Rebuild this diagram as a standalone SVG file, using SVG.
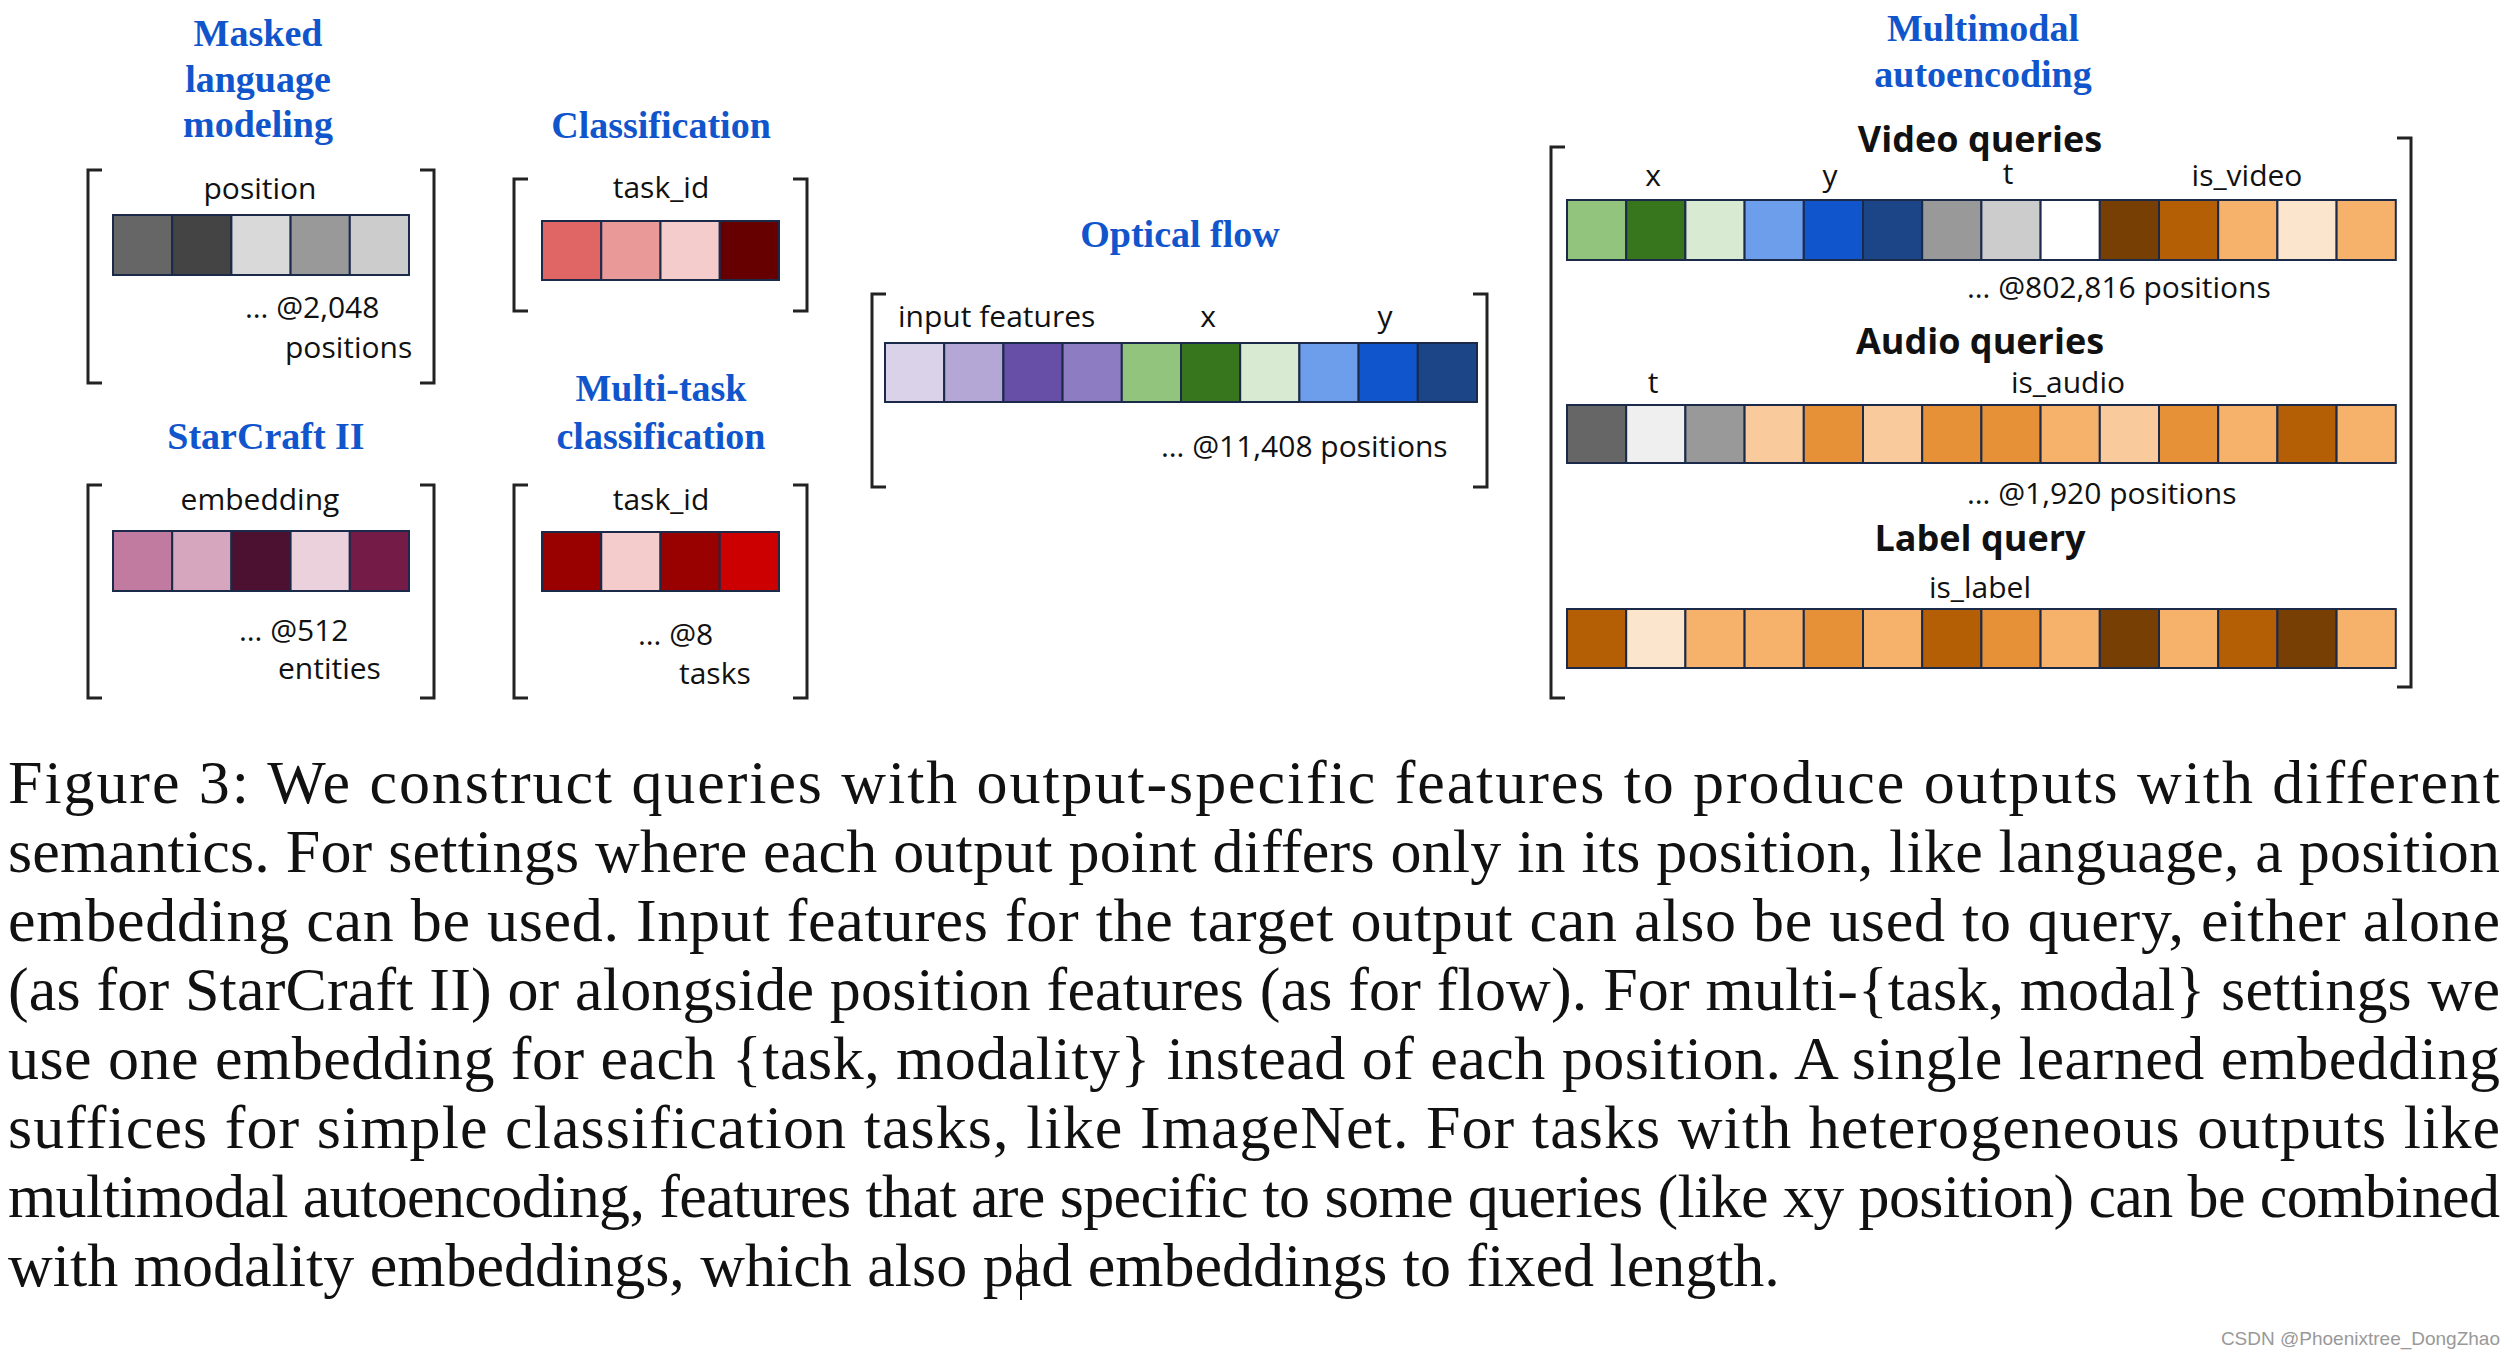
<svg xmlns="http://www.w3.org/2000/svg" width="2507" height="1354" viewBox="0 0 2507 1354">
<style>
.c{stroke:#1c2a4a;stroke-width:2}
.br{fill:none;stroke:#222;stroke-width:3}
.ti{font-family:"Liberation Serif",serif;font-weight:bold;font-size:38px;fill:#1155cc;text-anchor:middle}
.lb{font-family:"Open Sans","Liberation Sans",sans-serif;font-size:30px;fill:#111}
.hd{font-family:"Open Sans","Liberation Sans",sans-serif;font-weight:bold;font-size:36px;fill:#111;text-anchor:middle}
.m{text-anchor:middle}
.cap{font-family:"Liberation Serif",serif;font-size:62px;fill:#111}
</style>
<rect width="2507" height="1354" fill="#fff"/>
<g id="mlm">
<text class="ti" x="258" y="46">Masked</text>
<text class="ti" x="258" y="92">language</text>
<text class="ti" x="258" y="137">modeling</text>
<path class="br" d="M102,170H88V383H102M420,170H434V383H420"/>
<text class="lb m" x="260" y="199">position</text>
<g class="c" transform="translate(0,215)">
<rect x="113" width="59.2" height="60" fill="#666666"/><rect x="172.2" width="59.2" height="60" fill="#444444"/><rect x="231.4" width="59.2" height="60" fill="#d9d9d9"/><rect x="290.6" width="59.2" height="60" fill="#999999"/><rect x="349.8" width="59.2" height="60" fill="#cccccc"/>
</g>
<text class="lb" x="245" y="318">… @2,048</text>
<text class="lb" x="285" y="358">positions</text>
</g>
<g id="classification">
<text class="ti" x="661" y="138">Classification</text>
<path class="br" d="M528,179H514V311H528M793,179H807V311H793"/>
<text class="lb m" x="661" y="198">task_id</text>
<g class="c" transform="translate(0,221)">
<rect x="542" width="59.25" height="59" fill="#e06666"/><rect x="601.25" width="59.25" height="59" fill="#ea9999"/><rect x="660.5" width="59.25" height="59" fill="#f4cccc"/><rect x="719.75" width="59.25" height="59" fill="#660000"/>
</g>
</g>
<g id="starcraft">
<text class="ti" x="266" y="449">StarCraft II</text>
<path class="br" d="M102,485H88V698H102M420,485H434V698H420"/>
<text class="lb m" x="260" y="510">embedding</text>
<g class="c" transform="translate(0,531)">
<rect x="113" width="59.2" height="60" fill="#c27ba0"/><rect x="172.2" width="59.2" height="60" fill="#d5a6bd"/><rect x="231.4" width="59.2" height="60" fill="#4c1130"/><rect x="290.6" width="59.2" height="60" fill="#ead1dc"/><rect x="349.8" width="59.2" height="60" fill="#741b47"/>
</g>
<text class="lb" x="239" y="641">… @512</text>
<text class="lb" x="278" y="679">entities</text>
</g>
<g id="multitask">
<text class="ti" x="661" y="401">Multi-task</text>
<text class="ti" x="661" y="449">classification</text>
<path class="br" d="M528,485H514V698H528M793,485H807V698H793"/>
<text class="lb m" x="661" y="510">task_id</text>
<g class="c" transform="translate(0,532)">
<rect x="542" width="59.25" height="59" fill="#990000"/><rect x="601.25" width="59.25" height="59" fill="#f4cccc"/><rect x="660.5" width="59.25" height="59" fill="#990000"/><rect x="719.75" width="59.25" height="59" fill="#cc0000"/>
</g>
<text class="lb" x="638" y="645">… @8</text>
<text class="lb" x="679" y="684">tasks</text>
</g>
<g id="opticalflow">
<text class="ti" x="1180" y="247">Optical flow</text>
<path class="br" d="M886,294H872V487H886M1473,294H1487V487H1473"/>
<text class="lb" x="898" y="327">input features</text>
<text class="lb m" x="1208" y="327">x</text>
<text class="lb m" x="1385" y="327">y</text>
<g class="c" transform="translate(0,343)">
<rect x="885" width="59.2" height="59" fill="#d9d2e9"/><rect x="944.2" width="59.2" height="59" fill="#b4a7d6"/><rect x="1003.4" width="59.2" height="59" fill="#674ea7"/><rect x="1062.6" width="59.2" height="59" fill="#8e7cc3"/><rect x="1121.8" width="59.2" height="59" fill="#93c47d"/><rect x="1181" width="59.2" height="59" fill="#38761d"/><rect x="1240.2" width="59.2" height="59" fill="#d9ead3"/><rect x="1299.4" width="59.2" height="59" fill="#6d9eeb"/><rect x="1358.6" width="59.2" height="59" fill="#1155cc"/><rect x="1417.8" width="59.2" height="59" fill="#1c4587"/>
</g>
<text class="lb" x="1161" y="457">… @11,408 positions</text>
</g>
<g id="multimodal">
<text class="ti" x="1983" y="41">Multimodal</text>
<text class="ti" x="1983" y="87">autoencoding</text>
<path class="br" d="M1565,147H1551V698H1565M2397,138H2411V687H2397"/>
<text class="hd" x="1980" y="152">Video queries</text>
<text class="lb m" x="1653" y="186">x</text>
<text class="lb m" x="1830" y="186">y</text>
<text class="lb m" x="2008" y="184">t</text>
<text class="lb m" x="2247" y="186">is_video</text>
<g class="c" transform="translate(0,200)">
<rect x="1567" width="59.2" height="60" fill="#93c47d"/><rect x="1626.2" width="59.2" height="60" fill="#38761d"/><rect x="1685.4" width="59.2" height="60" fill="#d9ead3"/><rect x="1744.6" width="59.2" height="60" fill="#6d9eeb"/><rect x="1803.8" width="59.2" height="60" fill="#1155cc"/><rect x="1863" width="59.2" height="60" fill="#1c4587"/><rect x="1922.2" width="59.2" height="60" fill="#999999"/><rect x="1981.4" width="59.2" height="60" fill="#cccccc"/><rect x="2040.6" width="59.2" height="60" fill="#ffffff"/><rect x="2099.8" width="59.2" height="60" fill="#783f04"/><rect x="2159" width="59.2" height="60" fill="#b45f06"/><rect x="2218.2" width="59.2" height="60" fill="#f6b26b"/><rect x="2277.4" width="59.2" height="60" fill="#fce5cd"/><rect x="2336.6" width="59.2" height="60" fill="#f6b26b"/>
</g>
<text class="lb" x="1967" y="298">… @802,816 positions</text>
<text class="hd" x="1980" y="354">Audio queries</text>
<text class="lb m" x="1653" y="393">t</text>
<text class="lb m" x="2068" y="393">is_audio</text>
<g class="c" transform="translate(0,405)">
<rect x="1567" width="59.2" height="58" fill="#666666"/><rect x="1626.2" width="59.2" height="58" fill="#efefef"/><rect x="1685.4" width="59.2" height="58" fill="#999999"/><rect x="1744.6" width="59.2" height="58" fill="#f9cb9c"/><rect x="1803.8" width="59.2" height="58" fill="#e69138"/><rect x="1863" width="59.2" height="58" fill="#f9cb9c"/><rect x="1922.2" width="59.2" height="58" fill="#e69138"/><rect x="1981.4" width="59.2" height="58" fill="#e69138"/><rect x="2040.6" width="59.2" height="58" fill="#f6b26b"/><rect x="2099.8" width="59.2" height="58" fill="#f9cb9c"/><rect x="2159" width="59.2" height="58" fill="#e69138"/><rect x="2218.2" width="59.2" height="58" fill="#f6b26b"/><rect x="2277.4" width="59.2" height="58" fill="#b45f06"/><rect x="2336.6" width="59.2" height="58" fill="#f6b26b"/>
</g>
<text class="lb" x="1967" y="504">… @1,920 positions</text>
<text class="hd" x="1980" y="551">Label query</text>
<text class="lb m" x="1980" y="598">is_label</text>
<g class="c" transform="translate(0,609)">
<rect x="1567" width="59.2" height="59" fill="#b45f06"/><rect x="1626.2" width="59.2" height="59" fill="#fce5cd"/><rect x="1685.4" width="59.2" height="59" fill="#f6b26b"/><rect x="1744.6" width="59.2" height="59" fill="#f6b26b"/><rect x="1803.8" width="59.2" height="59" fill="#e69138"/><rect x="1863" width="59.2" height="59" fill="#f6b26b"/><rect x="1922.2" width="59.2" height="59" fill="#b45f06"/><rect x="1981.4" width="59.2" height="59" fill="#e69138"/><rect x="2040.6" width="59.2" height="59" fill="#f6b26b"/><rect x="2099.8" width="59.2" height="59" fill="#783f04"/><rect x="2159" width="59.2" height="59" fill="#f6b26b"/><rect x="2218.2" width="59.2" height="59" fill="#b45f06"/><rect x="2277.4" width="59.2" height="59" fill="#783f04"/><rect x="2336.6" width="59.2" height="59" fill="#f6b26b"/>
</g>
</g>
<g id="connectors"></g>
<g id="caption" class="cap">
<text x="8" y="803" textLength="2492" lengthAdjust="spacing">Figure 3:  We construct queries with output-specific features to produce outputs with different</text>
<text x="8" y="872" textLength="2492" lengthAdjust="spacing">semantics. For settings where each output point differs only in its position, like language, a position</text>
<text x="8" y="941" textLength="2492" lengthAdjust="spacing">embedding can be used. Input features for the target output can also be used to query, either alone</text>
<text x="8" y="1010" textLength="2492" lengthAdjust="spacing">(as for StarCraft II) or alongside position features (as for flow). For multi-{task, modal} settings we</text>
<text x="8" y="1079" textLength="2492" lengthAdjust="spacing">use one embedding for each {task, modality} instead of each position. A single learned embedding</text>
<text x="8" y="1148" textLength="2492" lengthAdjust="spacing">suffices for simple classification tasks, like ImageNet.  For tasks with heterogeneous outputs like</text>
<text x="8" y="1217" textLength="2492" lengthAdjust="spacing">multimodal autoencoding, features that are specific to some queries (like xy position) can be combined</text>
<text x="8" y="1286">with modality embeddings, which also pad embeddings to fixed length.</text>
</g>
<line x1="1021" y1="1244" x2="1021" y2="1300" stroke="#111" stroke-width="2"/>
<text x="2500" y="1345" text-anchor="end" font-family="Liberation Sans,sans-serif" font-size="19" fill="#999">CSDN @Phoenixtree_DongZhao</text>
</svg>
